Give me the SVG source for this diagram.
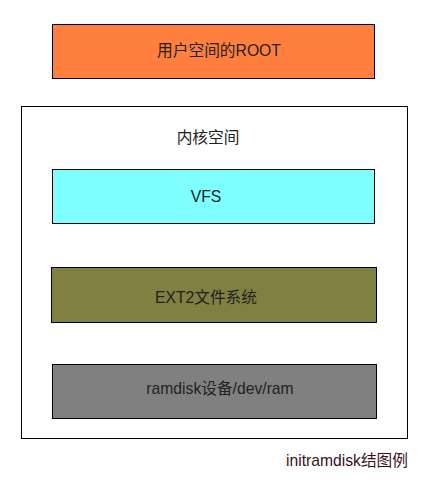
<svg xmlns="http://www.w3.org/2000/svg" width="436" height="483" viewBox="0 0 436 483">
<style>
.box{stroke:#000;stroke-width:1}
text{font-family:"Liberation Sans","Noto Sans CJK SC",sans-serif;font-size:15.7px;fill:#222;text-anchor:middle}
</style>
<rect width="436" height="483" fill="#fff"/>
<g id="user-root">
<rect class="box" x="52.5" y="24.5" width="322" height="54" fill="#FF7F3F"/>
<text x="219" y="56">用户空间的ROOT</text>
</g>
<g id="kernel-space">
<rect class="box" x="21.5" y="106.5" width="386" height="332" fill="none"/>
<text x="208" y="143">内核空间</text>
</g>
<g id="vfs">
<rect class="box" x="52.5" y="169.5" width="322" height="54" fill="#7FFFFF"/>
<text x="206" y="202">VFS</text>
</g>
<g id="ext2">
<rect class="box" x="51.5" y="267.5" width="325" height="55" fill="#808040"/>
<text x="206" y="303">EXT2文件系统</text>
</g>
<g id="ramdisk">
<rect class="box" x="52.5" y="364.5" width="324" height="54" fill="#808080"/>
<text x="220" y="394">ramdisk设备/dev/ram</text>
</g>
<g id="connectors"></g>
<text x="408" y="466" style="text-anchor:end;fill:#3a1020">initramdisk结图例</text>
</svg>
